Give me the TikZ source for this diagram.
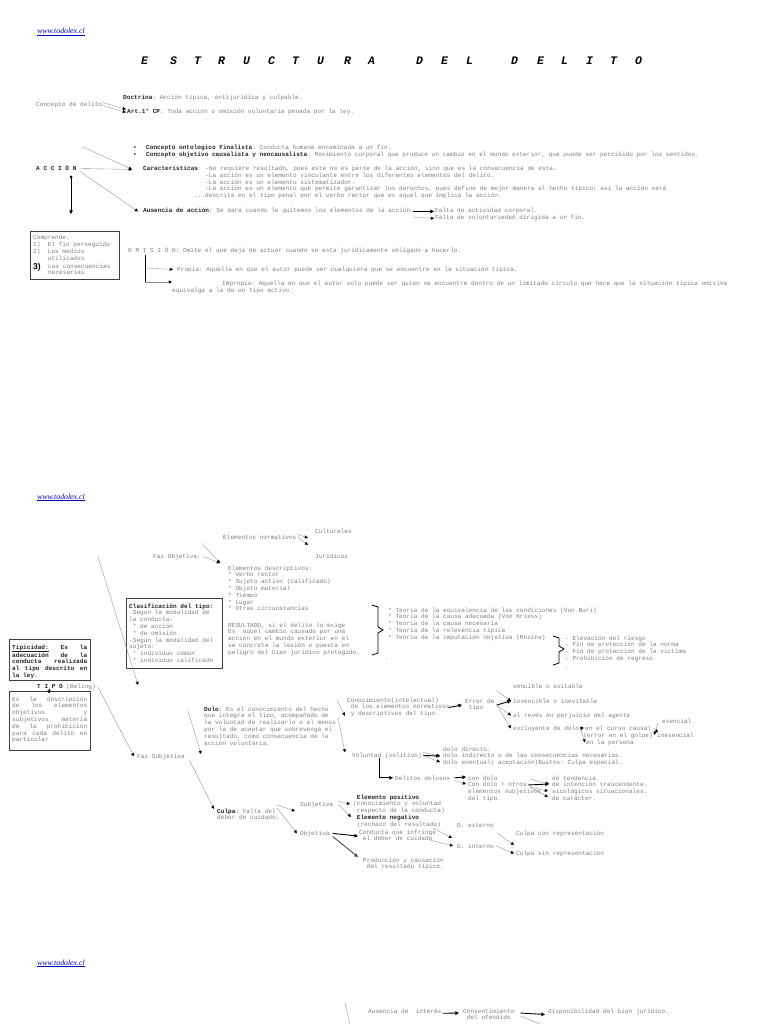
\documentclass[tikz,border=0pt]{standalone}
\usepackage{fontspec}
\setmainfont{Liberation Serif}
\setmonofont{Liberation Mono}
\newfontfamily\sansf{Liberation Sans}
\usetikzlibrary{arrows.meta,positioning,calc}

\newcommand\tfont{\ttfamily\fontsize{6.1}{6.8}\selectfont}
\newcommand\dk[1]{\textcolor{black!85}{\bfseries #1}}
\newcommand\ml[1]{\begin{tabular}[t]{@{}l@{}}#1\end{tabular}}
\newcommand\jl[1]{\makebox[75pt][l]{#1}}

\begin{document}
\begin{tikzpicture}[x=1pt,y=-1pt,
    tx/.style={anchor=base west,inner sep=0pt,yshift=-3pt,text=black!50,font=\tfont},
    ttl/.style={anchor=base west,inner sep=0pt,font=\ttfamily\fontsize{11.5}{12}\selectfont\bfseries\itshape},
    web/.style={anchor=base west,inner sep=0pt,text=blue!75!black,font=\fontsize{7.8}{8}\selectfont\itshape},
    ln/.style={draw=black!45,line width=0.35pt},
    arr/.style={ln,-{Triangle[length=3.2pt,width=3pt,color=black]}},
    bar/.style={draw=black,line width=0.9pt,-{Triangle[length=3.6pt,width=3.6pt]}},
    frame/.style={draw=black!75,line width=0.9pt,anchor=north west,inner sep=0pt},
    brace/.style={draw=black,line width=0.8pt}]
    \fill[white] (0,0) rectangle (768,1024);
    \useasboundingbox (0,0) rectangle (768,1024);

    % page 1
    \node[web] (web1) at (37,34) {\underline{www.todolex.cl}};
    \foreach \l/\x in {E/141,S/170,T/194,R/218,U/243,C/268,T/292,U/317,R/344,A/368,D/416,E/441,L/466,D/511,E/537,L/561,I/586,T/610,O/635}
        \node[ttl] (t\x) at (\x,65) {\l};

    \node[tx] (delito) at (36,104) {Concepto de delito};
    \node[tx] (doct) at (123,97) {\dk{Doctrina}: Acción típica, antijuridica y culpable.};
    \node[tx] (art) at (127,111) {\dk{Art.1° CP}: Toda acción u omisión voluntaria penada por la ley.};
    \node[tx,text=black] (bul1) at (133,147) {•};
    \node[tx,text=black] (bul2) at (133,154) {•};
    \node[tx] (onto) at (146,147) {\dk{Concepto ontologico Finalista}: Conducta humana encaminada a un fin.};
    \node[tx] (causal) at (146,154) {\dk{Concepto objetivo causalista y neocausalista}: Movimiento corporal que produce un cambio en el mundo exterior, que puede ser percibido por los sentidos.};
    \node[tx] (accion) at (36,168) {\dk{A C C I Ó N}};
    \node[tx] (carac) at (143,168) {\dk{Características}: -No requiere resultado, pues este no es parte de la acción, sino que es la consecuencia de esta.};
    \node[tx,font=\ttfamily\fontsize{6.1}{6.5}\selectfont] (carl) at (205,175) {\ml{-La acción es un elemento vinculante entre los diferentes elementos del delito.\\-La acción es un elemento sistematizador.\\-La acción es un elemento que permite garantizar los derechos, pues define de mejor manera el hecho típico; así la acción será}};
    \node[tx] (descr) at (194,194.5) {...descrita en el tipo penal por el verbo rector que es aquel que implica la acción.};
    \node[tx] (aus) at (143,210) {\dk{Ausencia de acción}: Se dará cuando le quitemos los elementos de la acción};
    \node[tx] (falta1) at (435,210) {Falta de actividad corporal.};
    \node[tx] (falta2) at (435,217) {Falta de voluntariedad dirigida a un fin.};

    \node[frame,minimum width=89pt,minimum height=48pt] (compbox) at (30,231) {};
    \node[tx] (comp) at (33,237) {\ml{Comprende:\\1)\ \ El fin perseguido\\2)\ \ Los medios\\\phantom{2)\ \ }utilizados}};
    \node[tx,text=black,font=\sansf\bfseries\fontsize{8.5}{9}\selectfont] (three) at (33,266) {3)};
    \node[tx] (conseq) at (48,265) {\ml{Las consecuencias\\necesarias}};

    \node[tx] (omis) at (128,249) {O M I S I Ó N: Omite el que deja de actuar cuando se esta juridicamente obligado a hacerlo.};
    \node[tx] (propia) at (177,268) {Propia: Aquella en que el autor puede ser cualquiera que se encuentre en la situación típica.};
    \node[tx] (impropia) at (222,282) {Impropia: Aquella en que el autor solo puede ser quien se encuentre dentro de un limitado circulo que hace que la situación típica omisiva};
    \node[tx] (equiv) at (172,289) {equivalga a la de un tipo activo.};

    \foreach \n/\x/\y in {acctop/83/147,dot/71/177,dotend/71/214,f2s/413/217,omtop/145/255,ombot/145/283,omp/145/268,omi/145/282,impend/172/282}
        \coordinate (\n) at (\x,\y);
    \draw[arr] (delito.north east) -- ([xshift=-1pt]art.north west);
    \draw[arr] (delito.east) -- ([xshift=-1pt]art.west);
    \draw[arr] (acctop) -- ([xshift=-11pt]carac.west);
    \draw[arr] ([xshift=3pt]accion.east) -- ([xshift=-11pt]carac.west);
    \draw[arr] ([xshift=3pt]accion.south east) -- ([xshift=-5pt]aus.west);
    \fill (dot) circle (1.5pt);
    \draw[bar] (dot) -- (dotend);
    \draw[bar] ([xshift=2pt]aus.east) -- ([xshift=-1pt]falta1.west);
    \draw[arr] (f2s) -- ([xshift=-1pt]falta2.west);
    \draw[black,line width=0.8pt] (omtop) -- (ombot);
    \draw[arr] (omp) -- ([xshift=-4pt]propia.west);
    \draw[arr] (omi) -- (impend);

    % page 2
    \node[web] (web2) at (37,499) {\underline{www.todolex.cl}};
    \node[tx] (cult) at (315,530) {Culturales};
    \node[tx] (elnorm) at (223,536) {Elementos normativos};
    \node[tx] (jurid) at (315,555) {Jurídicos};
    \node[tx] (fazobj) at (153,555) {Faz Objetiva:};
    \node[tx] (eldesc) at (228,567) {\ml{Elementos descriptivos:\\{*} Verbo rector\\{*} Sujeto activo (calificado)\\{*} Objeto material\\{*} Tiempo\\{*} Lugar\\{*} Otras circunstancias}};
    \node[tx] (result) at (228,624) {\ml{RESULTADO, si el delito lo exige\\Es\ \ aquel cambio causado por una\\acción en el mundo exterior en el\\se concreta la lesión o puesta en\\peligro del bien jurídico protegido.}};

    \node[frame,minimum width=96pt,minimum height=70pt] (clbox) at (126,598) {};
    \node[tx] (clasif) at (129,605) {\ml{\dk{Clasificación del tipo:}\\-Según la modalidad de\\la conducta:\\\ {*} de acción\\\ {*} de omisión\\-Según la modalidad del\\sujeto:\\\ {*} individuo común\\\ {*} individuo calificado}};

    \node[tx] (teorias) at (388,609) {\ml{{*} Teoria de la equivalencia de las condiciones (Von Buri)\\{*} Teoria de la causa adecuada (Von Kriess)\\{*} Teoria de la causa necesaria\\{*} Teoria de la relevancia típica\\{*} Teoria de la imputación objetiva (Roxins)}};
    \node[tx] (imput) at (565,637) {\ml{- Elevación del riesgo\\- Fin de protección de la norma\\- Fin de protección de la victima\\- Prohibición de regreso}};
    \draw[brace] (372,605) -- (378,607) -- (378,627) -- (383,630) -- (378,633) -- (378,653) -- (372,655);
    \node[tx] (dot1) at (385,656) {.};
    \draw[brace] (553,636) -- (559,638) -- (559,646) -- (564,649) -- (559,652) -- (559,663) -- (553,665);
    \node[tx] (dot2) at (565,666) {.};

    \node[frame,minimum width=81pt,minimum height=41pt] (tipbox) at (9,639) {};
    \node[tx,text=black!85,font=\tfont\bfseries] (tipic) at (12,646) {\ml{\jl{\underline{Tipicidad:}\hfill Es\hfill la}\\\jl{adecuación\hfill de\hfill la}\\\jl{conducta\hfill realizada}\\\jl{al\hfill tipo\hfill descrito\hfill en}\\la ley.}};
    \node[tx] (tipo) at (37,685) {\dk{T I P O} (Beling)};
    \node[frame,minimum width=81pt,minimum height=59pt] (descbox) at (9,691) {};
    \node[tx] (desc) at (12,698) {\ml{\jl{Es\hfill la\hfill descripción}\\\jl{de\hfill los\hfill elementos}\\\jl{objetivos\hfill y}\\\jl{subjetivos\hfill materia}\\\jl{de\hfill la\hfill prohibición}\\\jl{para\hfill cada\hfill delito\hfill en}\\particular}};

    \node[tx] (fazsub) at (137,755) {Faz Subjetiva};
    \node[tx] (dolo) at (204,708) {\ml{\dk{Dolo}: Es el conocimiento del hecho\\que integra el tipo, acompañado de\\la voluntad de realizarlo o al menos\\por la de aceptar que sobrevenga el\\resultado, como consecuencia de la\\acción voluntaria.}};
    \node[tx] (culpa) at (217,810) {\ml{\dk{Culpa}: Falta del\\deber de cuidado.}};
    \node[tx] (conoc) at (347,699) {\ml{Conocimiento(intelectual)\\\ de los elementos normativos\\\ y descriptivos del tipo.}};
    \node[tx] (volun) at (352,754) {Voluntad (volitivo)};
    \node[tx] (error) at (465,700) {\ml{Error de\\\ tipo}};
    \node[tx] (venc) at (513,685) {vencible o evitable};
    \node[tx] (inven) at (513,700) {invencible o inevitable};
    \node[tx] (alrev) at (513,714) {al revés en perjuicio del agente};
    \node[tx] (exclu) at (513,727) {excluyente de dolo};
    \node[tx] (curso) at (585,727) {en el curso causal};
    \node[tx] (golpe) at (583,734) {(error en el golpe)};
    \node[tx] (perso) at (586,741) {en la persona};
    \node[tx] (esen) at (662,720) {esencial};
    \node[tx] (inesen) at (657,734) {inesencial};
    \node[tx] (dolos) at (443,748) {\ml{dolo directo.\\dolo indirecto o de las consecuencias necesarias.\\dolo eventual( aceptación)Bustos: Culpa especial.}};
    \node[tx] (deldol) at (395,777) {Delitos dolosos};
    \node[tx] (condolo) at (468,777) {\ml{con dolo\\Con dolo + otros\\elementos subjetivos\\del tipo.}};
    \node[tx] (tend) at (552,777) {\ml{de tendencia.\\de intención trascendente.\\sicológicos situacionales.\\de carácter.}};
    \node[tx] (subj) at (300,803) {Subjetiva};
    \node[tx] (obj) at (300,832) {Objetiva};
    \node[tx] (elem) at (353,796) {\ml{\ \dk{Elemento positivo}\\(conocimiento y voluntad\\\ respecto de la conducta)\\\ \dk{Elemento negativo}\\\ (rechazo del resultado)}};
    \node[tx] (cond) at (359,831) {\ml{Conducta que infringe\\\ el deber de cuidado}};
    \node[tx] (produc) at (363,859) {\ml{Producción y causación\\\ del resultado típico.}};
    \node[tx] (dext) at (457,824) {D. externo};
    \node[tx] (dint) at (457,845) {D. interno};
    \node[tx] (ccon) at (516,832) {Culpa con representación};
    \node[tx] (csin) at (516,852) {Culpa sin representación};

    \foreach \n/\x/\y in {nrm1/308/538,nrm2/308/545,fo3/220/563,lo1/98/557,lo2/138/685,ls1/98/687,do1/188/711,do2/201/754,cu2/214/809,kn1/337/700,kn3/338/718,vd1/440/756,vd2/440/762,cd1/466/777,cd2/466/784,tz0/530/779,tz1/549/784,tz4/528/785,tz5/530/787,tz2/548/791,tz3/548/797,cs0/277/805,cs1/277/808,sj/295/811,ep1/350/804,ep2/351/817,de0/433/828,de1/452/838,di0/430/840,cc0/497/833,cc1/514/845}
        \coordinate (\n) at (\x,\y);
    \draw[arr] ([xshift=1pt]elnorm.north east) -- (nrm1);
    \draw[arr] ([xshift=1pt]elnorm.east) -- (nrm2);
    \draw[arr] ([xshift=1pt,yshift=10pt]fazobj.north east) -- ([xshift=-8pt,yshift=2pt]eldesc.north west);
    \draw[arr] ([xshift=2pt]fazobj.east) -- (fo3);
    \draw[arr] (lo1) -- (lo2);
    \draw[arr] (ls1) -- ([xshift=-3pt]fazsub.west);
    \draw[black,-{Triangle[length=3pt,width=3pt]}] ([xshift=12pt]tipo.south west) -- ([xshift=12pt,yshift=-4pt]tipo.south west);
    \draw[arr] (do1) -- (do2);
    \draw[arr] ([xshift=4pt]fazsub.south east) -- (cu2);
    \draw[arr] (kn1) -- ([xshift=-2pt,yshift=2pt]conoc.south west);
    \draw[arr] (kn3) -- ([xshift=-7pt]volun.north west);
    \draw[bar] ([xshift=-1pt]conoc.east) -- ([xshift=-3pt]error.west);
    \draw[arr] ([xshift=2pt,yshift=7pt]error.north east) -- ([xshift=-2pt]inven.west);
    \draw[bar] ([xshift=2pt]error.east) -- ([xshift=-2pt]inven.west);
    \draw[arr] ([xshift=2pt]error.east) -- ([xshift=-2pt]alrev.west);
    \draw[arr] ([xshift=2pt]error.east) -- ([xshift=-2pt]exclu.west);
    \draw[bar] ([xshift=1pt]exclu.east) -- ([xshift=-1pt]curso.west);
    \draw[arr] ([xshift=1pt]exclu.east) -- ([xshift=-1pt]perso.west);
    \draw[arr] ([xshift=2pt]curso.east) -- ([xshift=1pt]inesen.north west);
    \draw[arr] ([xshift=-4pt]esen.south west) -- ([xshift=-3pt]inesen.west);
    \draw[arr] ([xshift=1pt]volun.north east) -- (vd1);
    \draw[bar] ([xshift=1pt]volun.east) -- (vd1);
    \draw[arr] ([xshift=1pt]volun.east) -- (vd2);
    \draw[bar] ([xshift=27pt]volun.south west) |- ([xshift=-2pt]deldol.west);
    \draw[bar] ([xshift=4pt]deldol.east) -- (cd1);
    \draw[arr] ([xshift=4pt]deldol.south east) -- (cd2);
    \draw[arr] (tz0) -- (tz1);
    \draw[bar] (tz4) -- (tz1);
    \draw[arr] (tz5) -- (tz2);
    \draw[arr] (tz5) -- (tz3);
    \draw[arr] (cs0) -- (sj);
    \draw[arr] (cs1) -- ([xshift=-3pt]obj.west);
    \draw[arr] ([xshift=5pt]subj.north east) -- (ep1);
    \draw[arr] ([xshift=5pt]subj.east) -- (ep2);
    \draw[bar] ([xshift=3pt]obj.east) -- ([xshift=-1pt]cond.west);
    \draw[bar,draw=black!70] ([xshift=3pt]obj.south east) -- ([xshift=-5pt]produc.north west);
    \draw[arr] (de0) -- (de1);
    \draw[arr] (di0) -- ([xshift=-4pt]dint.west);
    \draw[arr] (cc0) -- (cc1);
    \draw[arr] ([xshift=2pt]dint.east) -- ([xshift=-2pt]csin.west);

    % page 3
    \node[web] (web3) at (37,965) {\underline{www.todolex.cl}};
    \node[tx] (ausint) at (368,1010) {Ausencia de\ \ interés};
    \node[tx] (consen) at (463,1010) {\ml{Consentimiento\\\ del ofendido}};
    \node[tx] (dispon) at (548,1010) {disponibilidad del bien jurídico.};
    \coordinate (sl1) at (345,1003);
    \coordinate (sl2) at (350,1024);
    \coordinate (of2) at (540,1024);
    \draw[bar] ([xshift=1pt]ausint.south east) -- ([xshift=-4pt,yshift=-5pt]consen.north west);
    \draw[bar] ([xshift=6pt,yshift=-5pt]consen.north east) -- ([xshift=-3pt]dispon.south west);
    \draw[ln] ([xshift=6pt,yshift=-8pt]consen.north east) -- (of2);
    \draw[ln] (sl1) -- (sl2);
\end{tikzpicture}
\end{document}
